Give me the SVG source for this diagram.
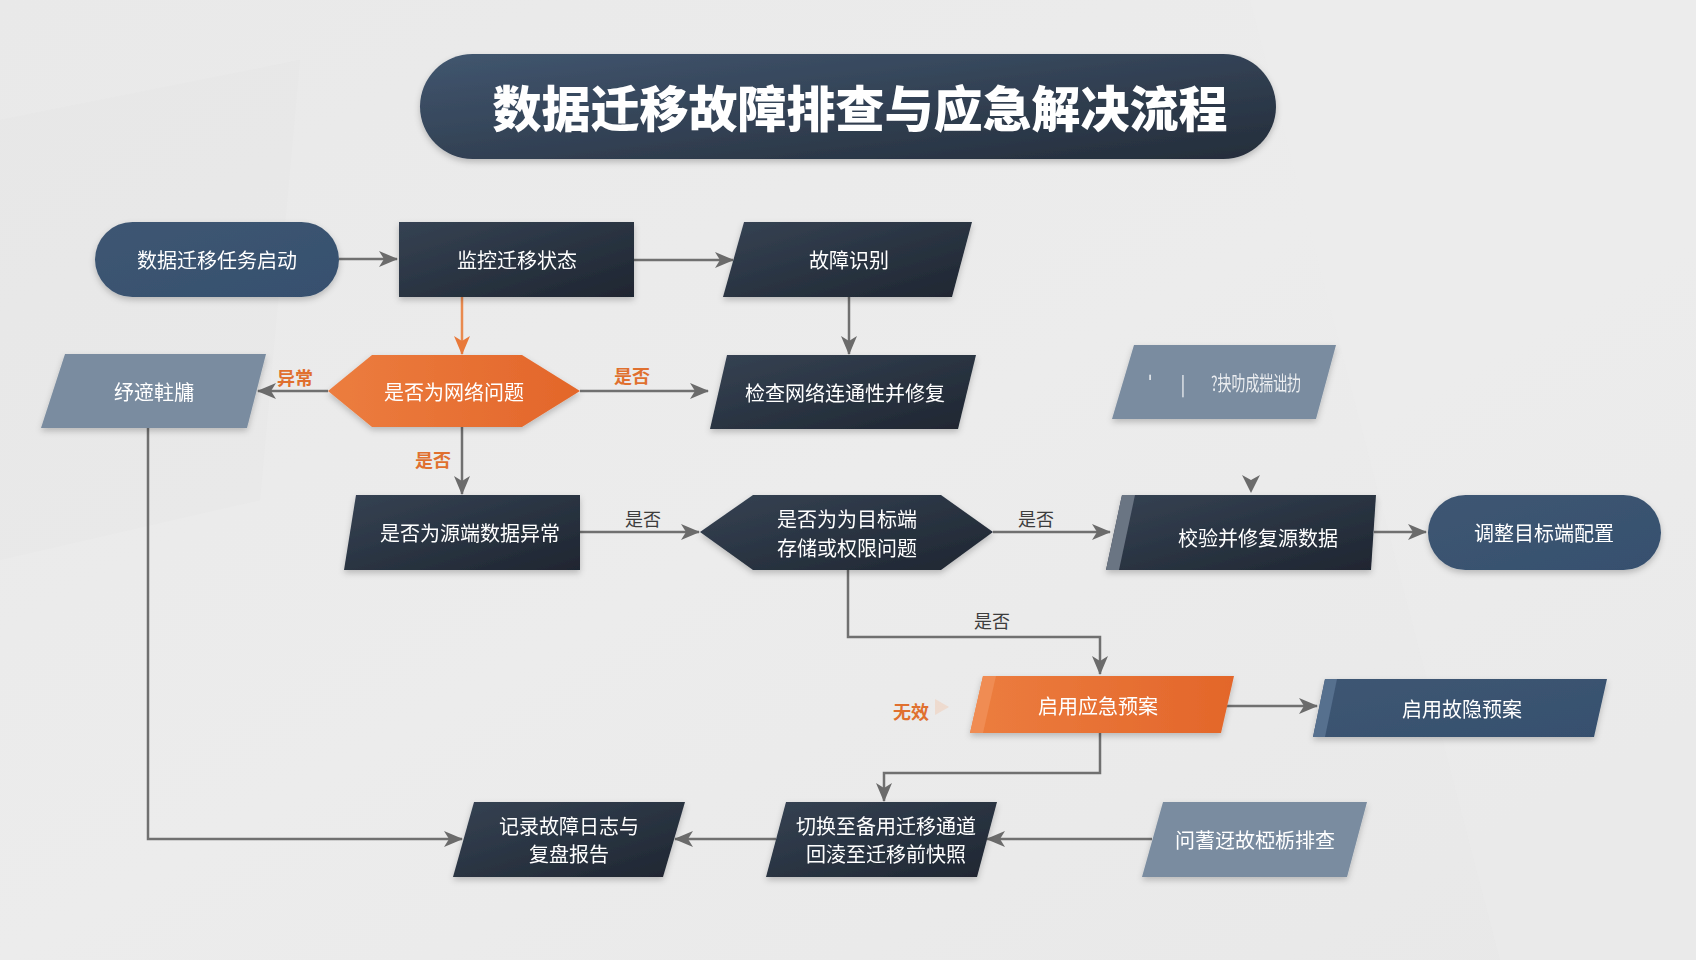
<svg xmlns="http://www.w3.org/2000/svg" width="1696" height="960" viewBox="0 0 1696 960">
<defs>
<linearGradient id="gDark" x1="0" y1="0" x2="1" y2="1">
<stop offset="0" stop-color="#354253"/>
<stop offset="1" stop-color="#1f2631"/>
</linearGradient>
<linearGradient id="gTitle" x1="0" y1="0" x2="1" y2="1">
<stop offset="0" stop-color="#41566f"/>
<stop offset="1" stop-color="#242d3a"/>
</linearGradient>
<linearGradient id="gBlue" x1="0" y1="0" x2="1" y2="1">
<stop offset="0" stop-color="#3e5673"/>
<stop offset="1" stop-color="#36506e"/>
</linearGradient>
<linearGradient id="gOrange" x1="0" y1="0" x2="1" y2="0">
<stop offset="0" stop-color="#ec7d3f"/>
<stop offset="1" stop-color="#e3662a"/>
</linearGradient>
<linearGradient id="gBg" x1="0" y1="0" x2="1" y2="1">
<stop offset="0" stop-color="#e9e9e9"/>
<stop offset="0.5" stop-color="#ececec"/>
<stop offset="1" stop-color="#e8e8e8"/>
</linearGradient>
<filter id="sh" x="-10%" y="-20%" width="120%" height="150%">
<feDropShadow dx="0" dy="3" stdDeviation="3" flood-color="#000" flood-opacity="0.22"/>
</filter>
<marker id="ah" markerUnits="userSpaceOnUse" markerWidth="20" markerHeight="18" refX="18" refY="8" orient="auto">
<path d="M0,0 L19,8 L0,16 L5,8 z" fill="#6b6b6b"/>
</marker>
<marker id="aho" markerUnits="userSpaceOnUse" markerWidth="20" markerHeight="18" refX="18" refY="8" orient="auto">
<path d="M0,0 L19,8 L0,16 L5,8 z" fill="#e8793a"/>
</marker>
<style>
.t{font-family:"Noto Sans CJK SC","Noto Sans",sans-serif;fill:#ffffff;font-size:20px;text-anchor:middle;dominant-baseline:central}
.lb{font-family:"Noto Sans CJK SC","Noto Sans",sans-serif;font-size:18px;text-anchor:middle;dominant-baseline:central}
.lo{fill:#e0702f;font-weight:bold}
.lg{fill:#3d3d3d}
.c{fill:none;stroke:#707070;stroke-width:2.5}
.co{fill:none;stroke:#e98a4f;stroke-width:2.5}
.dark{fill:url(#gDark)}
.blue{fill:url(#gBlue)}
.gray{fill:#7a8ca0}
.or{fill:url(#gOrange)}
</style>
</defs>
<rect width="1696" height="960" fill="url(#gBg)"/>
<polygon points="0,120 300,60 260,500 0,560" fill="#e5e5e5" opacity="0.25"/>
<polygon points="1250,0 1696,0 1696,960 1500,960" fill="#efefef" opacity="0.35"/>

<g id="title" filter="url(#sh)">
<rect x="420" y="54" width="856" height="105" rx="52.5" fill="url(#gTitle)"/>
<text x="860" y="105" font-family="Noto Sans CJK SC, sans-serif" font-size="49" font-weight="900" fill="#ffffff" text-anchor="middle" dominant-baseline="central">数据迁移故障排查与应急解决流程</text>
</g>

<g id="connectors">
<path class="c" d="M339,259 L397,259" marker-end="url(#ah)"/>
<path class="c" d="M634,260 L733,260" marker-end="url(#ah)"/>
<path class="co" d="M462,297 L462,354" marker-end="url(#aho)"/>
<path class="c" d="M849,297 L849,354" marker-end="url(#ah)"/>
<path class="c" d="M328,391 L258,391" marker-end="url(#ah)"/>
<path class="c" d="M580,391 L708,391" marker-end="url(#ah)"/>
<path class="c" d="M462,427 L462,494" marker-end="url(#ah)"/>
<path class="c" d="M580,532 L699,532" marker-end="url(#ah)"/>
<path class="c" d="M993,532 L1110,532" marker-end="url(#ah)"/>
<path d="M1242,475 L1251,480 L1260,475 L1251,493 z" fill="#6b6b6b"/>
<path class="c" d="M1374,532 L1426,532" marker-end="url(#ah)"/>
<path class="c" d="M848,570 L848,637 L1100,637 L1100,674" marker-end="url(#ah)"/>
<path class="c" d="M1222,706 L1317,706" marker-end="url(#ah)"/>
<path class="c" d="M1100,733 L1100,773 L884,773 L884,801" marker-end="url(#ah)"/>
<path class="c" d="M776,839 L675,839" marker-end="url(#ah)"/>
<path class="c" d="M1152,839 L987,839" marker-end="url(#ah)"/>
<path class="c" d="M148,428 L148,839 L462,839" marker-end="url(#ah)"/>
<path d="M935,699 L949,707 L935,715 z" fill="#f1c7ae" opacity="0.45"/>
<text class="lb lo" x="295" y="377">异常</text>
<text class="lb lo" x="632" y="375">是否</text>
<text class="lb lo" x="433" y="459">是否</text>
<text class="lb lg" x="643" y="518">是否</text>
<text class="lb lg" x="1036" y="518">是否</text>
<text class="lb lg" x="992" y="620">是否</text>
<text class="lb lo" x="911" y="711">无效</text>
</g>

<g id="n1" filter="url(#sh)">
<rect x="95" y="222" width="244" height="75" rx="37.5" class="blue"/>
<text class="t" x="217" y="259">数据迁移任务启动</text>
</g>
<g id="n2" filter="url(#sh)">
<rect x="399" y="222" width="235" height="75" class="dark"/>
<text class="t" x="517" y="259">监控迁移状态</text>
</g>
<g id="n3" filter="url(#sh)">
<polygon points="744,222 972,222 952,297 723,297" class="dark"/>
<text class="t" x="849" y="259">故障识别</text>
</g>
<g id="n4" filter="url(#sh)">
<polygon points="65,354 266,354 247,428 41,428" class="gray"/>
<text class="t" x="154" y="391">纾遆軴牗</text>
</g>
<g id="n5" filter="url(#sh)">
<polygon points="328,391 372,355 522,355 580,391 522,427 372,427" class="or"/>
<text class="t" x="454" y="391">是否为网络问题</text>
</g>
<g id="n6" filter="url(#sh)">
<polygon points="727,355 976,355 958,429 710,429" class="dark"/>
<text class="t" x="845" y="392">检查网络连通性并修复</text>
</g>
<g id="n7" filter="url(#sh)">
<polygon points="1134,345 1336,345 1316,419 1112,419" class="gray"/>
<text class="t" x="1150" y="381" font-size="16" opacity="0.8">ˈ</text>
<text class="t" x="1183" y="383" font-size="16" opacity="0.8">|</text>
<text class="t" x="1256" y="382" font-size="16" opacity="0.85" textLength="90" lengthAdjust="spacingAndGlyphs">?抉叻成揣诎扐</text>
</g>
<g id="n8" filter="url(#sh)">
<polygon points="356,495 580,495 580,570 344,570" class="dark"/>
<text class="t" x="470" y="532">是否为源端数据异常</text>
</g>
<g id="n9" filter="url(#sh)">
<polygon points="700,532 753,495 941,495 993,532 941,570 753,570" class="dark"/>
<text class="t" x="847" y="518">是否为为目标端</text>
<text class="t" x="847" y="547">存储或权限问题</text>
</g>
<g id="n10" filter="url(#sh)">
<polygon points="1122,495 1376,495 1371,570 1106,570" class="dark"/>
<polygon points="1122,495 1135,495 1119,570 1106,570" fill="#6b7483"/>
<text class="t" x="1258" y="537">校验并修复源数据</text>
</g>
<g id="n11" filter="url(#sh)">
<rect x="1428" y="495" width="233" height="75" rx="37.5" class="blue"/>
<text class="t" x="1544" y="532">调整目标端配置</text>
</g>
<g id="n12" filter="url(#sh)">
<polygon points="983,676 1234,676 1221,733 970,733" class="or"/>
<polygon points="983,676 996,676 983,733 970,733" fill="#f08c52"/>
<text class="t" x="1098" y="705">启用应急预案</text>
</g>
<g id="n13" filter="url(#sh)">
<polygon points="1325,679 1607,679 1594,737 1313,737" class="blue"/>
<polygon points="1325,679 1337,679 1325,737 1313,737" fill="#566f8e"/>
<text class="t" x="1462" y="708">启用故隐预案</text>
</g>
<g id="n14" filter="url(#sh)">
<polygon points="786,802 997,802 977,877 766,877" class="dark"/>
<text class="t" x="886" y="825">切换至备用迁移通道</text>
<text class="t" x="886" y="853">回淩至迁移前快照</text>
</g>
<g id="n15" filter="url(#sh)">
<polygon points="474,802 685,802 663,877 453,877" class="dark"/>
<text class="t" x="569" y="825">记录故障日志与</text>
<text class="t" x="569" y="853">复盘报告</text>
</g>
<g id="n16" filter="url(#sh)">
<polygon points="1163,802 1367,802 1347,877 1142,877" class="gray"/>
<text class="t" x="1255" y="839">问蓍迓故椏栃排查</text>
</g>
</svg>
